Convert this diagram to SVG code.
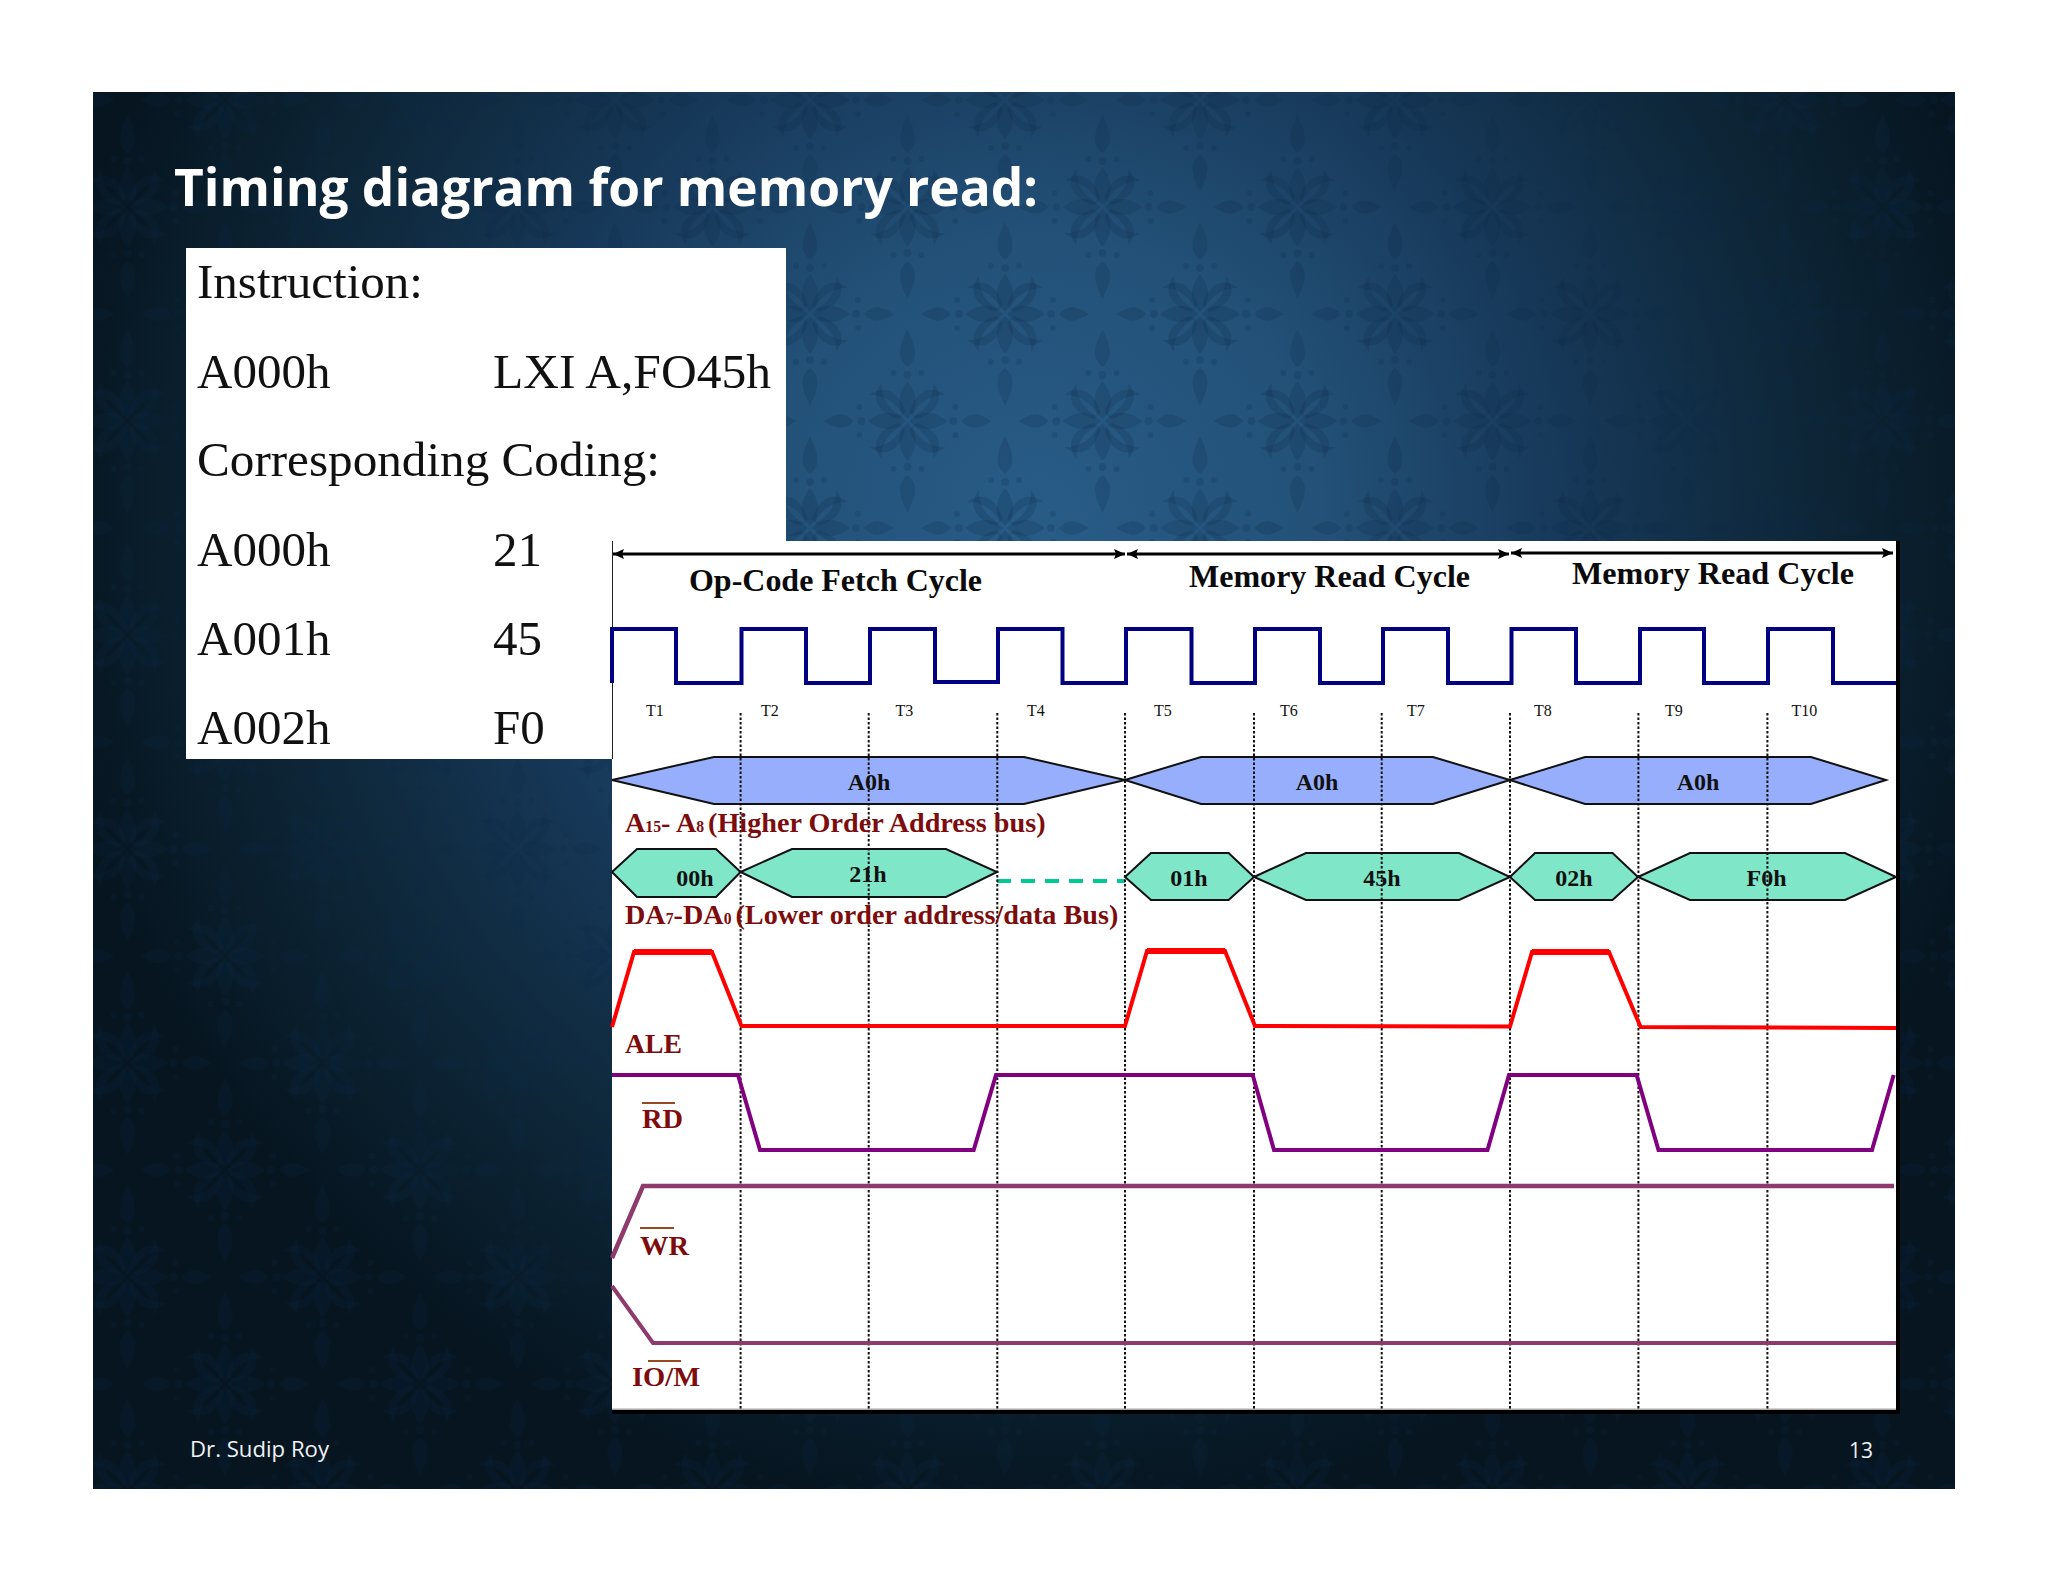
<svg xmlns="http://www.w3.org/2000/svg" xmlns:xlink="http://www.w3.org/1999/xlink" width="2048" height="1582" viewBox="0 0 2048 1582">
<style>
.serif{font-family:"Liberation Serif","Times New Roman",serif}
.box{font-size:49px;fill:#111}
.hd{font-size:31px;font-weight:700;fill:#0a0a0a}
.t{font-size:16px;fill:#111}
.hv{font-size:24px;font-weight:700;fill:#111;text-anchor:middle}
.lb{font-size:27px;font-weight:700;fill:#7d0c0c}
.bus{font-size:28.2px}
.sub{font-size:15.7px}
.ft{font-family:"Open Sans","Noto Sans",sans-serif;font-size:22px;fill:#eef2f5}
.addr{fill:#97aefc;stroke:#111;stroke-width:2}
.data{fill:#80e6c8;stroke:#111;stroke-width:2}
.dot{stroke:#111;stroke-width:2;stroke-dasharray:2.5 2;fill:none}
.sig{fill:none;stroke-linejoin:miter}
.ovl{stroke:#96481e;stroke-width:2}
.arr{stroke:#000;stroke-width:3;marker-start:url(#ah);marker-end:url(#ah)}
</style>
<defs>
<radialGradient id="bg" gradientUnits="userSpaceOnUse" cx="0" cy="0" r="1" gradientTransform="translate(1040 520) scale(1000 1000)">
<stop offset="0" stop-color="#285c87"/>
<stop offset=".28" stop-color="#235178"/>
<stop offset=".52" stop-color="#17395a"/>
<stop offset=".78" stop-color="#0d2536"/>
<stop offset="1" stop-color="#061520"/>
</radialGradient>
<marker id="ah" markerUnits="userSpaceOnUse" markerWidth="12" markerHeight="12" refX="11" refY="6" orient="auto-start-reverse"><path d="M0 1 L11 6 L0 11 L2 6 Z" fill="#000"/></marker>
<g id="petal"><path d="M0 -2 C-11 -12 -11 -26 0 -40 C11 -26 11 -12 0 -2 Z"/><path d="M5 -5 C18 -10 26 -22 26 -38 C38 -24 30 -8 9 -2 Z"/><path d="M-5 -5 C-18 -10 -26 -22 -26 -38 C-38 -24 -30 -8 -9 -2 Z"/><circle cy="-46" r="4"/><circle cx="-14" cy="-48" r="3"/><circle cx="14" cy="-48" r="3"/></g>
<g id="motif">
<use xlink:href="#petal"/><use xlink:href="#petal" transform="rotate(90)"/><use xlink:href="#petal" transform="rotate(180)"/><use xlink:href="#petal" transform="rotate(270)"/>
<path d="M0 -54 C10 -62 10 -72 0 -92 C-10 -72 -10 -62 0 -54 Z"/><path d="M0 54 C10 62 10 72 0 92 C-10 72 -10 62 0 54 Z"/><path d="M54 0 C62 -9 70 -9 84 0 C70 9 62 9 54 0 Z"/><path d="M-54 0 C-62 -9 -70 -9 -84 0 C-70 9 -62 9 -54 0 Z"/>
</g>
<pattern id="damask" patternUnits="userSpaceOnUse" x="810" y="100" width="195" height="214">
<g fill="#0b2a45" fill-opacity=".2">
<use xlink:href="#motif" transform="translate(97.5 107)"/>
<use xlink:href="#motif" transform="translate(0 0)"/><use xlink:href="#motif" transform="translate(195 0)"/><use xlink:href="#motif" transform="translate(0 214)"/><use xlink:href="#motif" transform="translate(195 214)"/>
</g>
</pattern>
</defs>

<rect width="2048" height="1582" fill="#fff"/>
<g id="slide-background">
<rect x="93" y="92" width="1862" height="1397" fill="url(#bg)"/>
<rect x="93" y="92" width="1862" height="1397" fill="url(#damask)"/>
</g>

<text id="title" x="174" y="206" font-family="'Open Sans','Noto Sans',sans-serif" font-size="52" font-weight="700" fill="#fff" textLength="864" lengthAdjust="spacingAndGlyphs">Timing diagram for memory read:</text>

<g id="instruction-box">
<rect x="186" y="248" width="600" height="511" fill="#fff"/>
<g class="serif box">
<text x="197" y="298" textLength="226" lengthAdjust="spacingAndGlyphs">Instruction:</text>
<text x="197" y="388">A000h</text>
<text x="493" y="388" textLength="278" lengthAdjust="spacingAndGlyphs">LXI A,FO45h</text>
<text x="197" y="476" textLength="463" lengthAdjust="spacingAndGlyphs">Corresponding Coding:</text>
<text x="197" y="566">A000h</text>
<text x="493" y="566">21</text>
<text x="197" y="655">A001h</text>
<text x="493" y="655">45</text>
<text x="197" y="744">A002h</text>
<text x="493" y="744">F0</text>
</g>
</g>

<g id="timing-panel">
<rect x="612" y="541" width="1288" height="873" fill="#000"/>
<rect x="612" y="541" width="1284" height="869" fill="#fff"/>
<rect x="612" y="541" width="1" height="218" fill="#222"/>
<rect x="612" y="1408.5" width="1284" height="1.5" fill="#aaa"/>
</g>

<g id="clock"><polyline class="sig" stroke="#000080" stroke-width="4" points="612,683 612,629 676,629 676,683 741.5,683 741.5,629 806,629 806,683 870,683 870,629 935,629 935,682 998,682 998,629 1062.5,629 1062.5,683 1126,683 1126,629 1191.5,629 1191.5,683 1255,683 1255,629 1320,629 1320,683 1383,683 1383,629 1448,629 1448,683 1511.5,683 1511.5,629 1576,629 1576,683 1640,683 1640,629 1704,629 1704,683 1768,683 1768,629 1833,629 1833,683 1896,683"/></g>

<g id="address-bus">
<polygon class="addr" points="612,780 714,757 1024,757 1125,780 1024,804 714,804"/>
<polygon class="addr" points="1125,780 1201,757 1433,757 1510,780 1433,804 1201,804"/>
<polygon class="addr" points="1510,780 1585,757 1811,757 1886,780 1811,804 1585,804"/>
</g>

<g id="data-bus">
<polygon class="data" points="612,872 637,849 716,849 740.6,872 716,897 637,897"/>
<polygon class="data" points="740.6,872 792,849 946,849 997,872 946,897 792,897"/>
<polygon class="data" points="1125,877 1151,853 1228.6,853 1254,877 1228.6,900 1151,900"/>
<polygon class="data" points="1254,877 1306,853 1459,853 1510,877 1459,900 1306,900"/>
<polygon class="data" points="1510,877 1535,853 1612.5,853 1638,877 1612.5,900 1535,900"/>
<polygon class="data" points="1638,877 1690,853 1845,853 1896,877 1845,900 1690,900"/>
</g>

<g id="connectors">
<line class="arr" x1="613" y1="554" x2="1125" y2="554"/>
<line class="arr" x1="1127" y1="554" x2="1509" y2="554"/>
<line class="arr" x1="1511" y1="553" x2="1893" y2="553"/>
<line x1="997" y1="881" x2="1125" y2="881" stroke="#00c896" stroke-width="4" stroke-dasharray="14 10"/>
<g class="dot">
<line x1="740.6" y1="713" x2="740.6" y2="1410"/>
<line x1="868.7" y1="713" x2="868.7" y2="1410"/>
<line x1="997.3" y1="713" x2="997.3" y2="1410"/>
<line x1="1125" y1="713" x2="1125" y2="1410"/>
<line x1="1254" y1="713" x2="1254" y2="1410"/>
<line x1="1381.7" y1="713" x2="1381.7" y2="1410"/>
<line x1="1510" y1="713" x2="1510" y2="1410"/>
<line x1="1638.4" y1="713" x2="1638.4" y2="1410"/>
<line x1="1767.4" y1="713" x2="1767.4" y2="1410"/>
</g>
</g>

<g id="signal-ale">
<polyline class="sig" stroke="#ff0000" stroke-width="4" points="612,1027 634,952 712,952 741.5,1026 1125,1026 1147,951 1225,951 1255,1026 1510,1026.5 1532,952 1609,952 1640.6,1027 1896,1028"/>
<path d="M634 952H712M1147 951H1225M1532 952H1609" stroke="#ff0000" stroke-width="6"/>
</g>
<g id="signal-rd"><polyline class="sig" stroke="#800080" stroke-width="4" points="612,1075 738,1075 760,1150 973.7,1150 996,1075 1252.7,1075 1274,1150 1487.5,1150 1509,1075 1636.6,1075 1658.5,1150 1872,1150 1893.7,1075"/></g>
<g id="signal-wr"><polyline class="sig" stroke="#8e3a6c" stroke-width="4.5" points="612,1258 643,1186 1894,1186"/></g>
<g id="signal-iom"><polyline class="sig" stroke="#8e3a6c" stroke-width="4" points="612,1286 653,1343 1896,1343"/></g>

<g id="labels" class="serif">
<text class="hd" x="689" y="591" textLength="293" lengthAdjust="spacingAndGlyphs">Op-Code Fetch Cycle</text>
<text class="hd" x="1189" y="587" textLength="281" lengthAdjust="spacingAndGlyphs">Memory Read Cycle</text>
<text class="hd" x="1572" y="584" textLength="282" lengthAdjust="spacingAndGlyphs">Memory Read Cycle</text>
<text class="t" x="646" y="716">T1</text><text class="t" x="761" y="716">T2</text><text class="t" x="895.5" y="716">T3</text><text class="t" x="1027" y="716">T4</text><text class="t" x="1154" y="716">T5</text><text class="t" x="1280" y="716">T6</text><text class="t" x="1407" y="716">T7</text><text class="t" x="1534" y="716">T8</text><text class="t" x="1665" y="716">T9</text><text class="t" x="1791.5" y="716">T10</text>
<text class="hv" x="869" y="790">A0h</text><text class="hv" x="1317" y="790">A0h</text><text class="hv" x="1698" y="790">A0h</text>
<text class="hv" x="695" y="886">00h</text><text class="hv" x="868" y="882">21h</text><text class="hv" x="1189" y="886">01h</text><text class="hv" x="1382" y="886">45h</text><text class="hv" x="1574" y="886">02h</text><text class="hv" x="1766.5" y="886">F0h</text>
<text class="lb bus" x="625" y="832">A<tspan class="sub">15</tspan>- A<tspan class="sub">8 </tspan>(Higher Order Address bus)</text>
<text class="lb bus" x="625" y="924">DA<tspan class="sub">7</tspan>-DA<tspan class="sub">0 </tspan>(Lower order address/data Bus)</text>
<text class="lb" x="625" y="1053" textLength="57" lengthAdjust="spacingAndGlyphs">ALE</text>
<text class="lb" x="642" y="1128" textLength="41" lengthAdjust="spacingAndGlyphs">RD</text>
<text class="lb" x="640" y="1255" textLength="49" lengthAdjust="spacingAndGlyphs">WR</text>
<text class="lb" x="632" y="1386" textLength="68" lengthAdjust="spacingAndGlyphs">IO/M</text>
</g>
<g id="overlines">
<line class="ovl" x1="642" y1="1103" x2="675" y2="1103"/>
<line class="ovl" x1="640" y1="1228" x2="674" y2="1228"/>
<line class="ovl" x1="648" y1="1361" x2="681" y2="1361"/>
</g>

<g id="footer">
<text class="ft" x="190" y="1457" textLength="139" lengthAdjust="spacingAndGlyphs">Dr. Sudip Roy</text>
<text class="ft" x="1849" y="1458" textLength="24" lengthAdjust="spacingAndGlyphs">13</text>
</g>
</svg>
